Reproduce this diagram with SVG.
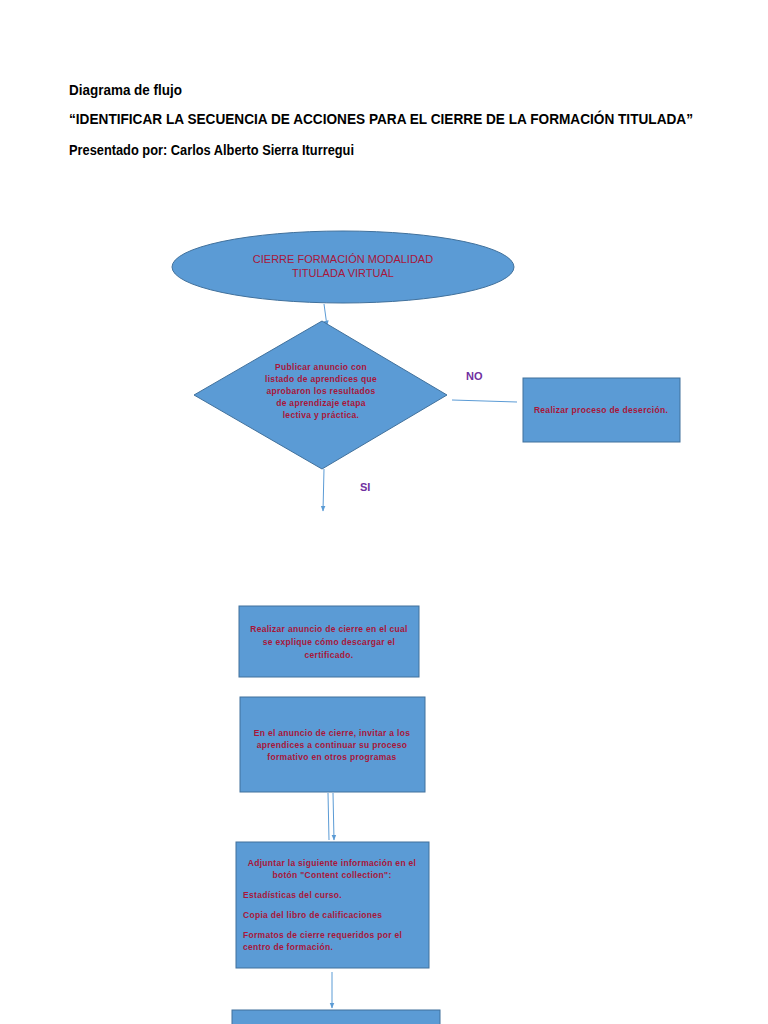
<svg xmlns="http://www.w3.org/2000/svg" width="768" height="1024" viewBox="0 0 768 1024">
<defs>
<style>
.title{font-family:"Liberation Sans Narrow","Liberation Sans",Arial,sans-serif;font-weight:bold;font-size:14px;fill:#000}
.shape{fill:#5b9bd5;stroke:#41719c;stroke-width:1}
.t{font-family:"Liberation Sans",Arial,sans-serif;font-size:8.5px;font-weight:bold;fill:#a8163a;letter-spacing:0.3px}
.tn{font-family:"Liberation Sans",Arial,sans-serif;font-size:11px;fill:#a8163a}
.lab{font-family:"Liberation Sans",Arial,sans-serif;font-size:11px;font-weight:bold;fill:#7030a0}
.conn{stroke:#5b9bd5;stroke-width:1;fill:none}
</style>
<marker id="ah" viewBox="0 0 10 10" refX="9" refY="5" markerWidth="6" markerHeight="6" orient="auto">
<path d="M0,1 L10,5 L0,9 z" fill="#5b9bd5"/>
</marker>
</defs>
<rect width="768" height="1024" fill="#fff"/>
<g id="header">
<text class="title" x="69" y="95" textLength="113" lengthAdjust="spacingAndGlyphs">Diagrama de flujo</text>
<text class="title" x="69" y="124" textLength="624" lengthAdjust="spacingAndGlyphs">“IDENTIFICAR LA SECUENCIA DE ACCIONES PARA EL CIERRE DE LA FORMACIÓN TITULADA”</text>
<text class="title" x="69" y="155" textLength="285" lengthAdjust="spacingAndGlyphs">Presentado por: Carlos Alberto Sierra Iturregui</text>
</g>
<g id="connectors">
<line class="conn" x1="324" y1="304" x2="327" y2="326" marker-end="url(#ah)"/>
<line class="conn" x1="452" y1="400" x2="517" y2="402"/>
<line class="conn" x1="324" y1="469" x2="323" y2="511" marker-end="url(#ah)"/>
<line class="conn" x1="328" y1="793" x2="329" y2="840"/>
<line class="conn" x1="333" y1="793" x2="334" y2="840" marker-end="url(#ah)"/>
<line class="conn" x1="332" y1="972" x2="332" y2="1008" marker-end="url(#ah)"/>
<text class="lab" x="466" y="380">NO</text>
<text class="lab" x="360" y="491">SI</text>
</g>
<g id="start">
<ellipse class="shape" cx="343" cy="267" rx="171" ry="36"/>
<text class="tn" text-anchor="middle" x="343" y="263">CIERRE FORMACIÓN MODALIDAD</text>
<text class="tn" text-anchor="middle" x="343" y="277">TITULADA VIRTUAL</text>
</g>
<g id="decision">
<polygon class="shape" points="322,321 447,395 322,469 194,395"/>
<text class="t" text-anchor="middle" x="321" y="370">Publicar anuncio con</text>
<text class="t" text-anchor="middle" x="321" y="382">listado de aprendices que</text>
<text class="t" text-anchor="middle" x="321" y="394">aprobaron los resultados</text>
<text class="t" text-anchor="middle" x="321" y="406">de aprendizaje etapa</text>
<text class="t" text-anchor="middle" x="321" y="418">lectiva y práctica.</text>
</g>
<g id="desercion">
<rect class="shape" x="523" y="378" width="157" height="64"/>
<text class="t" text-anchor="middle" x="601" y="413">Realizar proceso de deserción.</text>
</g>
<g id="box1">
<rect class="shape" x="239" y="606" width="180" height="71"/>
<text class="t" text-anchor="middle" x="329" y="632">Realizar anuncio de cierre en el cual</text>
<text class="t" text-anchor="middle" x="329" y="645">se explique cómo descargar el</text>
<text class="t" text-anchor="middle" x="329" y="658">certificado.</text>
</g>
<g id="box2">
<rect class="shape" x="240" y="697" width="185" height="95"/>
<text class="t" text-anchor="middle" x="332" y="736">En el anuncio de cierre, invitar a los</text>
<text class="t" text-anchor="middle" x="332" y="748">aprendices a continuar su proceso</text>
<text class="t" text-anchor="middle" x="332" y="760">formativo en otros programas</text>
</g>
<g id="box3">
<rect class="shape" x="236" y="842" width="193" height="126"/>
<text class="t" text-anchor="middle" x="332" y="866">Adjuntar la siguiente información en el</text>
<text class="t" text-anchor="middle" x="332" y="878">botón "Content collection":</text>
<text class="t" x="243" y="898">Estadísticas del curso.</text>
<text class="t" x="243" y="918">Copia del libro de calificaciones</text>
<text class="t" x="243" y="938">Formatos de cierre requeridos por el</text>
<text class="t" x="243" y="950">centro de formación.</text>
</g>
<g id="box4">
<rect class="shape" x="232" y="1010" width="208" height="30"/>
</g>
</svg>
